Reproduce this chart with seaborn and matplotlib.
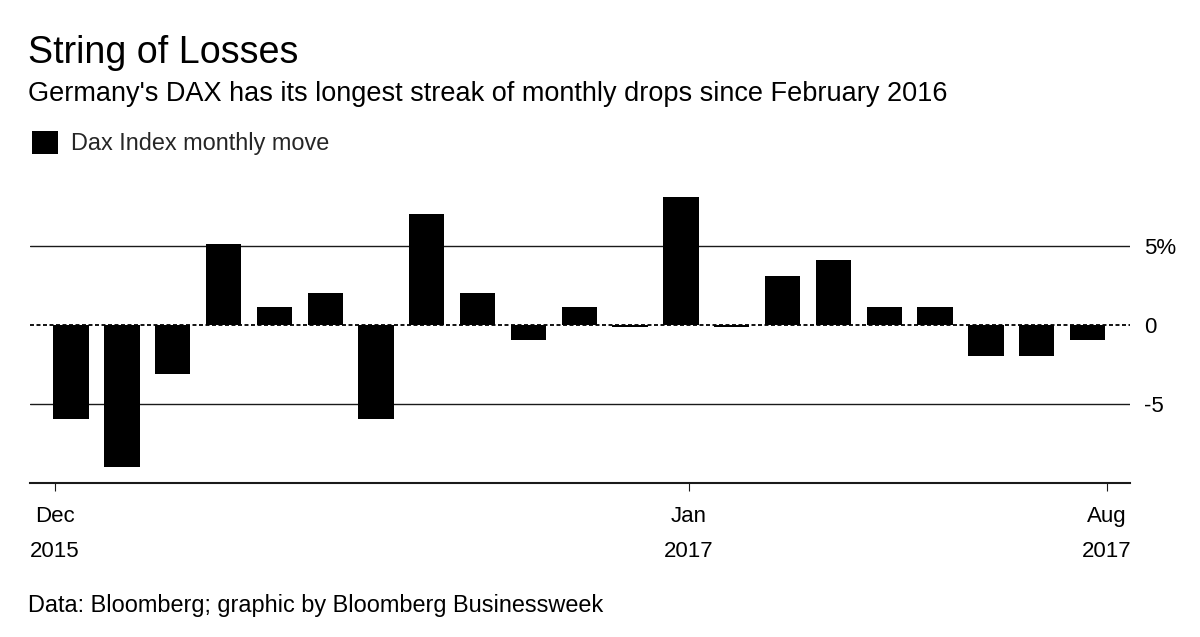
import matplotlib
matplotlib.use("Agg")
import matplotlib.pyplot as plt
import seaborn as sns
import pandas as pd

# ---- data ----
months = ["Dec 2015", "Jan 2016", "Feb 2016", "Mar 2016", "Apr 2016", "May 2016",
          "Jun 2016", "Jul 2016", "Aug 2016", "Sep 2016", "Oct 2016", "Nov 2016",
          "Dec 2016", "Jan 2017", "Feb 2017", "Mar 2017", "Apr 2017", "May 2017",
          "Jun 2017", "Jul 2017", "Aug 2017"]
moves = [-6.0, -9.0, -3.1, 5.1, 1.1, 2.0, -6.0, 7.0, 2.0, -1.0, 1.1, -0.15,
         8.1, -0.15, 3.1, 4.1, 1.1, 1.1, -2.0, -2.0, -1.0]
y_ticks = [-5, 0, 5]
y_tick_labels = ["-5", "0", "5%"]
x_tick_labels = ["Dec\n2015", "Jan\n2017", "Aug\n2017"]

title = "String of Losses"
subtitle = "Germany's DAX has its longest streak of monthly drops since February 2016"
legend_label = "Dax Index monthly move"
source = "Data: Bloomberg; graphic by Bloomberg Businessweek"

df = pd.DataFrame({"month": months, "move": moves})

sns.set_theme(style="white")
plt.rcParams["font.family"] = ["Liberation Sans", "DejaVu Sans"]

W, H = 1200, 637
fig = plt.figure(figsize=(W / 100, H / 100), dpi=100)
ax = fig.add_axes([30 / W, 1 - 482.7 / H, 1100 / W, 300.2 / H])

ink = "#1a1a1a"
ax.axhline(5, color=ink, lw=1.0, zorder=0)
ax.axhline(-5, color=ink, lw=1.0, zorder=0)
ax.axhline(0, color="black", lw=1.3, ls=(0, (2.2, 1.4)), zorder=1)

sns.barplot(data=df, x="month", y="move", color="black", saturation=1,
            width=0.695, ax=ax, label=legend_label, zorder=2,
            edgecolor="black", linewidth=0)
if ax.get_legend() is not None:
    ax.get_legend().remove()

ax.set_xlim(-0.807, 20.834)
ax.set_ylim(-10, 9)
ax.set_xlabel("")
ax.set_ylabel("")

# x ticks: first bar, start of 2017, last bar
ax.set_xticks([-0.315, 12.16, 20.38])
ax.set_xticklabels(x_tick_labels, fontsize=16, color="black", linespacing=1.83)
ax.tick_params(axis="x", direction="out", length=6, width=0.8, color=ink, pad=11,
               bottom=True)

ax.yaxis.tick_right()
ax.set_yticks(y_ticks)
ax.set_yticklabels(y_tick_labels, fontsize=16, color="black")
ax.tick_params(axis="y", length=0, pad=10)

for side in ["top", "left", "right"]:
    ax.spines[side].set_visible(False)
ax.spines["bottom"].set_color(ink)
ax.spines["bottom"].set_linewidth(1.5)
ax.grid(False)

fig.text(28 / W, 1 - 62.7 / H, title, fontsize=27.1, color="black", va="baseline", ha="left")
fig.text(28 / W, 1 - 101 / H, subtitle, fontsize=19.5, color="black", va="baseline", ha="left")
fig.text(28 / W, 1 - 611.7 / H, source, fontsize=16.9, color="black", va="baseline", ha="left")

handles, labels = ax.get_legend_handles_labels()
fig.legend(handles, labels, loc="upper left", bbox_to_anchor=(32 / W, 1 - 131 / H),
           frameon=False, fontsize=16.9, handlelength=1.1, handleheight=1.1,
           handletextpad=0.57, borderpad=0, borderaxespad=0)

fig.savefig("out.png", dpi=100)
